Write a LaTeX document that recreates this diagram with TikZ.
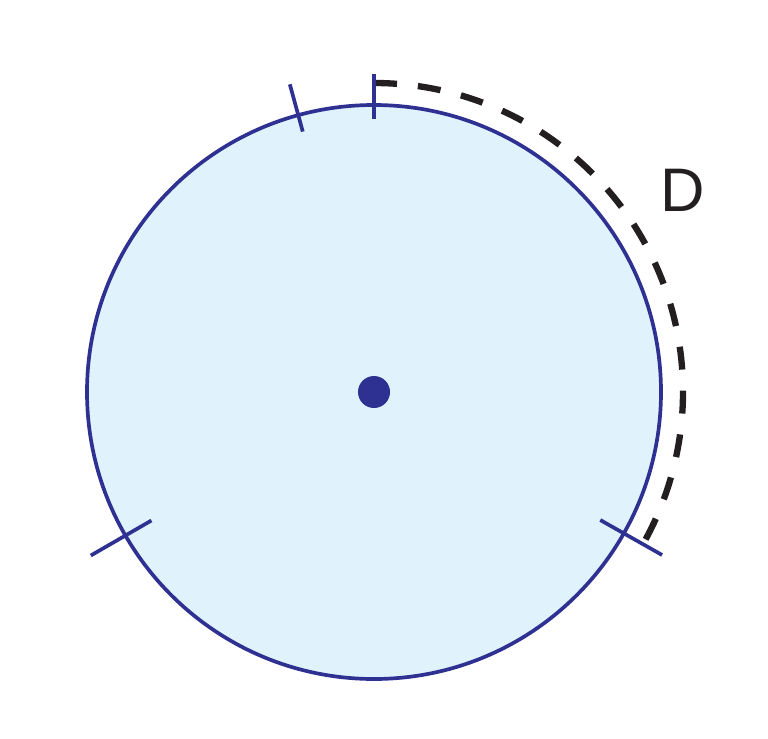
\documentclass[tikz,border=0pt]{standalone}
\usepackage{fontspec}
\setmainfont{Liberation Sans}
\usetikzlibrary{calc}
\definecolor{circleBlue}{RGB}{46,49,146}
\definecolor{circleFill}{RGB}{224,242,252}
\definecolor{arcBlack}{RGB}{35,31,32}
\newcommand{\drawTick}[3]{
	\draw[circleBlue, line width=1.05pt] ($(C)+(#1:#2)$) -- ($(C)+(#1:#3)$);
}
\begin{document}
\begin{tikzpicture}
	\useasboundingbox (0,0) rectangle (7.68,7.38);
	\coordinate (C) at (3.74,3.46);
	\coordinate (ARC_S) at ($(C)+(90:3.09)$);

	\draw[circleBlue, fill=circleFill, line width=1.05pt] (C) circle (2.87);
	\fill[circleBlue] (C) circle (0.16);

	%dashed arc
	\draw[arcBlack, line width=1.8pt, dash pattern=on 0.23cm off 0.21cm] (ARC_S) arc (90:-29.5:3.09);

	\drawTick{90}{2.73}{3.18}
	\drawTick{105.3}{2.70}{3.19}
	\drawTick{-29.5}{2.60}{3.31}
	\drawTick{210}{2.57}{3.27}

	\node[arcBlack, font=\fontsize{17.5}{18}\selectfont] (D) at (6.83,5.48) {D};
\end{tikzpicture}
\end{document}
